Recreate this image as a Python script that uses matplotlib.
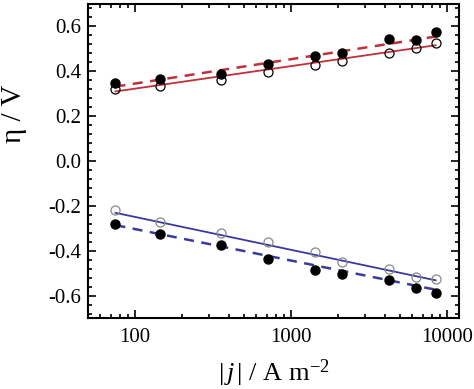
import numpy as np
import matplotlib.pyplot as plt
from matplotlib.ticker import MultipleLocator, LogLocator, NullFormatter, FixedLocator

plt.rcParams['font.family'] = ['Liberation Serif', 'DejaVu Serif']
plt.rcParams['mathtext.fontset'] = 'custom'
plt.rcParams['mathtext.rm'] = 'Liberation Serif'
plt.rcParams['mathtext.it'] = 'Liberation Serif:italic'

# current density |j| / A m^-2
j = [75, 145, 355, 710, 1420, 2120, 4240, 6370, 8500]

# overpotential (anode / cathode, filled and open symbols)
anode_filled = [0.349, 0.366, 0.389, 0.434, 0.466, 0.483, 0.543, 0.540, 0.577]
anode_open = [0.323, 0.336, 0.360, 0.396, 0.426, 0.447, 0.481, 0.506, 0.527]
cathode_open = [-0.219, -0.270, -0.322, -0.362, -0.404, -0.450, -0.480, -0.517, -0.525]
cathode_filled = [-0.281, -0.326, -0.373, -0.435, -0.486, -0.502, -0.532, -0.565, -0.588]

# Tafel fits: eta = a + b*log10(j)
fit_anode_dashed = (0.128, 0.1086)
fit_anode_solid = (0.122, 0.1003)
fit_cathode_solid = (0.0437, -0.1465)
fit_cathode_dashed = (-0.023, -0.1402)

red = '#c0303a'
blue = '#3a3a9e'

fig = plt.figure(figsize=(4.74, 3.89), dpi=100)
ax = fig.add_axes([88/474, 1 - 318/389, (459 - 88)/474, (318 - 4)/389])

jj = np.array(j, dtype=float)
lj = np.log10(jj)
ax.plot(jj, fit_anode_dashed[0] + fit_anode_dashed[1]*lj, '--', color=red, lw=1.8, dashes=(4, 3))
ax.plot(jj, fit_anode_solid[0] + fit_anode_solid[1]*lj, '-', color=red, lw=1.3)
ax.plot(jj, fit_cathode_solid[0] + fit_cathode_solid[1]*lj, '-', color=blue, lw=1.3)
ax.plot(jj, fit_cathode_dashed[0] + fit_cathode_dashed[1]*lj, '--', color=blue, lw=1.8, dashes=(4, 3))

ax.plot(j, anode_filled, 'o', color='black', ms=6.5, zorder=3)
ax.plot(j, anode_open, 'o', mfc='none', mec='black', mew=0.9, ms=6.5, zorder=3)
ax.plot(j, cathode_filled, 'o', color='black', ms=6.5, zorder=3)
ax.plot(j, cathode_open, 'o', mfc='none', mec='#888888', mew=0.9, ms=6.5, zorder=3)

ax.set_xscale('log')
ax.set_xlim(50, 12000)
ax.set_ylim(-0.7, 0.7)
ax.xaxis.set_major_locator(FixedLocator([100, 1000, 10000]))
ax.set_xticklabels(['100', '1000', '10000'])
ax.xaxis.set_minor_locator(LogLocator(base=10, subs=np.arange(2, 10)))
ax.xaxis.set_minor_formatter(NullFormatter())
ax.yaxis.set_major_locator(MultipleLocator(0.2))
ax.yaxis.set_minor_locator(MultipleLocator(0.04))
ax.set_yticks([-0.6, -0.4, -0.2, 0.0, 0.2, 0.4, 0.6])
ax.set_yticklabels(['-0.6', '-0.4', '-0.2', '0.0', '0.2', '0.4', '0.6'])

ax.tick_params(which='both', direction='in', top=True, right=True, labelsize=15, width=1.2)
ax.tick_params(which='major', length=6)
ax.tick_params(axis='y', which='major', pad=5)
ax.tick_params(axis='x', which='major', pad=7)
ax.tick_params(which='minor', length=3)
for s in ax.spines.values():
    s.set_linewidth(1.5)

ax.set_ylabel('η / V', fontsize=21)
ax.yaxis.set_label_coords(-0.165, 0.65)
ax.set_xlabel(r'$|\,j\,|$ / A m$^{\mathregular{-2}}$', fontsize=19)
ax.xaxis.set_label_coords(0.5, -0.125)

fig.savefig('out.png', dpi=100)
